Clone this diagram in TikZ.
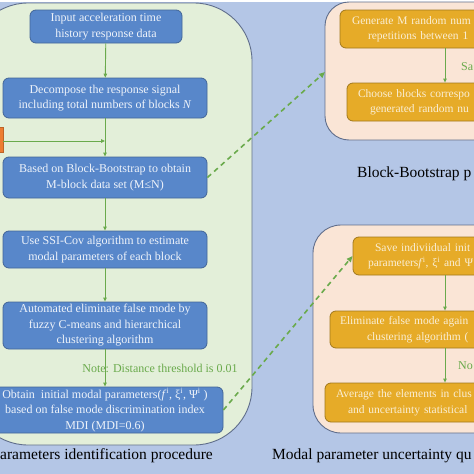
\documentclass[tikz,border=0pt]{standalone}
\usepackage{fontspec}
\setmainfont{Liberation Serif}
\usetikzlibrary{arrows.meta}
\definecolor{bgblue}{RGB}{180,198,230}
\definecolor{panelgreen}{RGB}{227,239,217}
\definecolor{panelpeach}{RGB}{250,229,214}
\definecolor{boxblue}{RGB}{88,135,202}
\definecolor{boxgold}{RGB}{230,171,40}
\definecolor{flowgreen}{RGB}{106,170,76}
\definecolor{edgegray}{RGB}{96,110,140}
\definecolor{orng}{RGB}{237,125,49}

\begin{document}
\begin{tikzpicture}[x=1pt, y=-1pt,
    panel/.style={draw=edgegray, line width=0.9pt},
    bluebox/.style={draw=boxblue!75!black, fill=boxblue, rounded corners=6pt, line width=0.8pt,
        text=white!90!boxblue, align=center, inner sep=1pt, font=\fontsize{12}{15.5}\selectfont},
    goldbox/.style={draw=boxgold!70!black, fill=boxgold, rounded corners=6pt, line width=0.8pt,
        text=white!80!boxgold, align=left, inner ysep=1pt, font=\fontsize{11.5}{15.5}\selectfont},
    flow/.style={-{Triangle[length=4pt,width=3.5pt]}, draw=flowgreen, line width=0.9pt},
    link/.style={-{Triangle[length=6pt,width=5pt]}, draw=flowgreen, line width=1.6pt, dash pattern=on 5pt off 4pt},
    note/.style={text=flowgreen, font=\fontsize{12}{14}\selectfont},
    title/.style={font=\fontsize{15.5}{18}\selectfont}]
    \useasboundingbox (0,0) rectangle (474,474);
    \clip (0,0) rectangle (474,474);
    % Background and panels
    \fill[bgblue] (0,0) rectangle (474,474);
    \fill[white] (0,0) rectangle (474,2);
    \draw[panel, fill=panelgreen, rounded corners=58pt] (-30,3) rectangle (252,445);
    \draw[panel, fill=panelpeach, rounded corners=24pt] (325,2) rectangle (520,140);
    \draw[panel, fill=panelpeach, rounded corners=28pt] (313,225) rectangle (520,433);

    % Identification procedure
    \node[bluebox, minimum width=152pt, minimum height=33pt] (input) at (106,26.5)
        {Input acceleration time\\history response data};
    \node[bluebox, minimum width=204pt, minimum height=40pt] (split) at (105,98)
        {Decompose the response signal\\including total numbers of blocks \textit{N}};
    \node[bluebox, minimum width=204pt, minimum height=41pt] (boot) at (105,177.5)
        {Based on Block-Bootstrap to obtain\\M-block data set (M≤N)};
    \node[bluebox, minimum width=204pt, minimum height=37pt] (ssi) at (105,249.5)
        {Use SSI-Cov algorithm to estimate\\modal parameters of each block};
    \node[bluebox, minimum width=204pt, minimum height=47pt] (fuzzy) at (105,325.5)
        {Automated eliminate false mode by\\fuzzy C-means and hierarchical\\clustering algorithm};
    \node[bluebox, minimum width=236pt, minimum height=46pt] (init) at (105,410)
        {Obtain\ \ initial modal parameters(\textit{f}\textsuperscript{i}, ξ\textsuperscript{i}, Ψ\textsuperscript{i} )\\based on false mode discrimination index\\MDI (MDI=0.6)};
    \node[fill=orng, draw=orng!80!black, minimum width=14pt, minimum height=25pt, inner sep=0pt] (src) at (-4,140) {};
    \coordinate (join) at (105,141);
    \node[note] (thr) at (160,368) {Note: Distance threshold is 0.01};
    \node[title, anchor=west, inner xsep=0pt] (lefttitle) at (0,456) {arameters identification procedure};

    \draw[flow] (input) -- (split);
    \draw[flow] (split) -- (boot);
    \draw[flow] (boot) -- (ssi);
    \draw[flow] (ssi) -- (fuzzy);
    \draw[flow] (fuzzy) -- (init);
    \draw[flow] (src.east |- join) -- (join);

    % Block-Bootstrap procedure
    \node[goldbox, inner xsep=12pt, text width=186pt, minimum height=38pt] (gen) at (445,29)
        {Generate M random num\\\hspace*{16pt}repetitions between 1};
    \node[goldbox, inner xsep=11pt, text width=174pt, minimum height=38pt] (pick) at (445,102)
        {Choose blocks correspo\\\hspace*{12pt}generated random nu};
    \node[note, anchor=west, inner xsep=0pt] (samp) at (461,67) {Sa};
    \node[title, anchor=west, inner xsep=0pt] (righttitle) at (357,174) {Block-Bootstrap p};
    \draw[flow] (gen) -- (pick);

    % Uncertainty quantification
    \node[goldbox, inner xsep=15pt, text width=154pt, minimum height=38pt] (save) at (445,256)
        {\hspace*{7pt}Save indiviidual init\\parameters\textit{f}\textsuperscript{i}, ξ\textsuperscript{i} and Ψ};
    \node[goldbox, inner xsep=10pt, text width=210pt, minimum height=37pt] (elim) at (445,329.5)
        {Eliminate false mode again\\\hspace*{27pt}clustering algorithm (};
    \node[goldbox, inner xsep=11pt, text width=218pt, minimum height=39pt] (avg) at (445,402.5)
        {Average the elements in clus\\\hspace*{12pt}and uncertainty statistical};
    \node[note, anchor=west, inner xsep=0pt] (note2) at (458,366) {No};
    \node[title, anchor=west, inner xsep=0pt] (bottitle) at (272,456) {Modal parameter uncertainty qu};
    \draw[flow] (save) -- (elim);
    \draw[flow] (elim) -- (avg);

    % Links between procedures
    \coordinate (bootin) at (325,72);
    \draw[link] (boot.east) -- (bootin);
    \draw[link] (init.east) -- (save.west);
\end{tikzpicture}
\end{document}
